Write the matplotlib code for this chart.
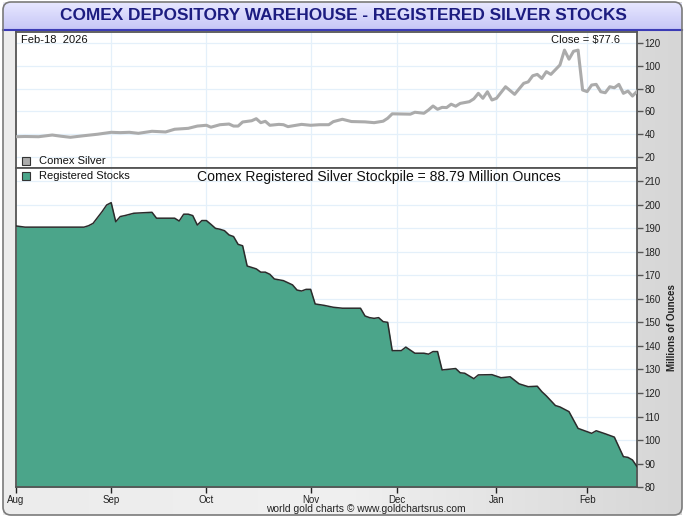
import matplotlib
matplotlib.use('Agg')
import matplotlib.pyplot as plt
import numpy as np
import pandas as pd
from matplotlib.patches import Rectangle, FancyBboxPatch
from matplotlib.colors import LinearSegmentedColormap

plt.rcParams['font.family'] = ['Liberation Sans', 'DejaVu Sans']

# ---------------- data ----------------
title = 'COMEX DEPOSITORY WAREHOUSE - REGISTERED SILVER STOCKS'
date_label = 'Feb-18  2026'
close_label = 'Close = $77.6'
stockpile_label = 'Comex Registered Silver Stockpile = 88.79 Million Ounces'
footer = 'world gold charts \u00a9 www.goldchartsrus.com'
month_labels = ['Aug', 'Sep', 'Oct', 'Nov', 'Dec', 'Jan', 'Feb']
holidays = ['2025-09-01', '2025-11-27', '2025-12-25', '2026-01-01', '2026-01-19', '2026-02-16']
silver_ticks = [20, 40, 60, 80, 100, 120]
stock_ticks = list(range(80, 211, 10))

silver_dates = ['2025-08-01', '2025-08-05', '2025-08-08', '2025-08-13', '2025-08-15', '2025-08-19',
                '2025-08-22', '2025-08-27', '2025-09-02', '2025-09-04', '2025-09-08', '2025-09-10',
                '2025-09-15', '2025-09-18', '2025-09-22', '2025-09-25', '2025-09-29', '2025-10-01',
                '2025-10-02', '2025-10-06', '2025-10-08', '2025-10-09', '2025-10-10', '2025-10-13',
                '2025-10-15', '2025-10-16', '2025-10-17', '2025-10-20', '2025-10-21', '2025-10-23',
                '2025-10-24', '2025-10-27', '2025-10-30', '2025-11-03', '2025-11-05', '2025-11-07',
                '2025-11-10', '2025-11-12', '2025-11-14', '2025-11-19', '2025-11-21', '2025-11-25',
                '2025-11-26', '2025-11-28', '2025-12-04', '2025-12-05', '2025-12-09', '2025-12-10',
                '2025-12-11', '2025-12-12', '2025-12-15', '2025-12-16', '2025-12-17', '2025-12-18',
                '2025-12-19', '2025-12-23', '2025-12-24', '2025-12-26', '2025-12-29', '2025-12-30',
                '2025-12-31', '2026-01-02', '2026-01-06', '2026-01-08', '2026-01-12', '2026-01-13',
                '2026-01-14', '2026-01-15', '2026-01-16', '2026-01-20', '2026-01-21', '2026-01-23',
                '2026-01-26', '2026-01-27', '2026-01-28', '2026-01-29', '2026-01-30', '2026-02-02',
                '2026-02-03', '2026-02-04', '2026-02-05', '2026-02-06', '2026-02-09', '2026-02-10',
                '2026-02-11', '2026-02-12', '2026-02-13', '2026-02-17', '2026-02-18']
silver_prices = [37.6, 37.8, 37.6, 39.1, 38.0, 37.1,
                 38.5, 39.8, 41.5, 41.2, 41.5, 40.6,
                 42.4, 41.8, 44.2, 45.0, 47.0, 47.7,
                 46.0, 48.2, 48.8, 47.0, 47.0, 50.6,
                 51.7, 53.5, 50.0, 51.2, 47.7, 48.5,
                 48.2, 46.5, 48.5, 47.7, 48.2, 48.2,
                 50.9, 53.0, 51.0, 50.7, 50.0, 51.3,
                 53.9, 57.8, 57.5, 59.2, 58.3, 61.2,
                 64.7, 61.8, 63.5, 63.3, 66.3, 64.5,
                 67.0, 68.5, 71.0, 75.9, 71.5, 77.3,
                 70.0, 71.5, 81.7, 75.0, 84.7, 86.0,
                 91.4, 92.6, 89.0, 95.0, 92.6, 100.9,
                 114.0, 106.0, 113.0, 114.0, 78.8, 77.4,
                 83.2, 83.8, 77.3, 76.4, 81.7, 80.8,
                 83.8, 75.9, 77.9, 73.5, 77.6]

stock_dates = ['2025-08-01', '2025-08-05', '2025-08-22', '2025-08-25', '2025-08-26', '2025-08-28',
               '2025-08-29', '2025-09-02', '2025-09-03', '2025-09-04', '2025-09-05', '2025-09-09',
               '2025-09-15', '2025-09-16', '2025-09-22', '2025-09-23', '2025-09-24', '2025-09-25',
               '2025-09-26', '2025-09-29', '2025-09-30', '2025-10-01', '2025-10-02', '2025-10-03',
               '2025-10-06', '2025-10-07', '2025-10-08', '2025-10-09', '2025-10-10', '2025-10-13',
               '2025-10-14', '2025-10-16', '2025-10-17', '2025-10-20', '2025-10-21', '2025-10-22',
               '2025-10-24', '2025-10-27', '2025-10-28', '2025-10-29', '2025-10-30', '2025-10-31',
               '2025-11-03', '2025-11-04', '2025-11-06', '2025-11-10', '2025-11-12', '2025-11-18',
               '2025-11-19', '2025-11-20', '2025-11-21', '2025-11-24', '2025-11-25', '2025-11-26',
               '2025-11-28', '2025-12-02', '2025-12-03', '2025-12-05', '2025-12-09', '2025-12-10',
               '2025-12-11', '2025-12-12', '2025-12-15', '2025-12-18', '2025-12-19', '2025-12-22',
               '2025-12-24', '2025-12-26', '2025-12-31', '2026-01-05', '2026-01-07', '2026-01-09',
               '2026-01-13', '2026-01-15', '2026-01-16', '2026-01-20', '2026-01-22', '2026-01-23',
               '2026-01-27', '2026-01-29', '2026-01-30', '2026-02-03', '2026-02-04', '2026-02-06',
               '2026-02-10', '2026-02-12', '2026-02-13', '2026-02-17', '2026-02-18']
stock_values = [190.9, 190.4, 190.4, 191.0, 192.0, 197.0,
                199.8, 200.8, 192.7, 194.9, 195.3, 196.3,
                196.7, 194.2, 194.2, 193.0, 195.9, 195.9,
                195.3, 191.3, 193.2, 193.2, 191.6, 189.9,
                189.5, 188.9, 187.1, 186.4, 183.1, 182.5,
                173.9, 172.7, 171.3, 171.3, 170.4, 168.4,
                167.7, 166.8, 165.9, 163.7, 163.3, 164.0,
                164.0, 157.8, 157.2, 156.4, 156.0, 156.0,
                152.7, 152.0, 151.7, 152.0, 150.3, 150.0,
                138.0, 138.0, 139.5, 136.9, 136.9, 136.5,
                137.6, 137.6, 129.8, 130.4, 128.6, 128.4,
                126.1, 127.7, 127.8, 126.5, 126.9, 123.9,
                122.7, 122.9, 120.6, 118.8, 114.7, 114.1,
                112.1, 105.0, 104.3, 102.9, 104.0, 102.7,
                101.3, 93.0, 92.7, 91.6, 88.79]

# ---------------- trading-day axis ----------------
trading_days = pd.bdate_range('2025-08-01', '2026-02-18', freq='C', holidays=holidays)
silver_x = trading_days.get_indexer(pd.to_datetime(silver_dates))
stock_x = trading_days.get_indexer(pd.to_datetime(stock_dates))
month_first = pd.Series(np.arange(len(trading_days)), index=trading_days)
month_pos = month_first.groupby(trading_days.to_period('M')).first().values
xmax = len(trading_days) - 1

# ---------------- figure ----------------
W, H = 685, 518
fig = plt.figure(figsize=(W / 100, H / 100), dpi=100, facecolor='white')

bg = fig.add_axes([0, 0, 1, 1], zorder=-5)
bg.set_xlim(0, W)
bg.set_ylim(H, 0)
bg.axis('off')
grad = np.linspace(0, 1, 256)[None, :]
cm_bg = LinearSegmentedColormap.from_list('bgc', ['#ececec', '#f0f0f0', '#d6d6d6'])
bg.imshow(grad, extent=(3, 682, 515, 2), cmap=cm_bg, aspect='auto', zorder=0)
cm_tb = LinearSegmentedColormap.from_list('tbc', ['#e6e6ff', '#c6c6f6'])
bg.imshow(np.linspace(0, 1, 64)[:, None], extent=(3, 682, 30, 3), cmap=cm_tb, aspect='auto', zorder=1)
bg.plot([3, 682], [30, 30], color='#3b3bb5', lw=1.5, zorder=2)
frame = FancyBboxPatch((3, 2), 679, 513, boxstyle='round,pad=0,rounding_size=8',
                       facecolor='none', edgecolor='#7a7a7a', lw=1.2, zorder=3)
bg.add_patch(frame)
bg.text(343, 16, title, ha='center', va='center', fontsize=12.4, fontweight='bold', color='#1c1c80')
bg.text(366, 509, footer, ha='center', va='center', fontsize=7.4, color='#222222')
bg.text(672, 328, 'Millions of Ounces', rotation=90, ha='center', va='center',
        fontsize=7, fontweight='bold', color='#222222')

L, R = 16, 637
top_t, mid, bot = 32, 168, 487.3
ax1 = fig.add_axes([L / W, 1 - mid / H, (R - L) / W, (mid - top_t) / H])
ax2 = fig.add_axes([L / W, 1 - bot / H, (R - L) / W, (bot - mid) / H])

grid_c = '#e4f0fa'
spine_c = '#555555'
for ax in (ax1, ax2):
    ax.set_facecolor('white')
    ax.set_xlim(0, xmax)
    ax.set_axisbelow(True)
    ax.yaxis.tick_right()
    for s in ax.spines.values():
        s.set_color(spine_c)
        s.set_linewidth(1.3)
    ax.tick_params(axis='y', direction='out', length=4, width=1, color=spine_c,
                   labelsize=7, labelcolor='#222222', pad=1.5)
    ax.set_xticks(month_pos)
    for xv in month_pos[1:]:
        ax.axvline(xv, color=grid_c, lw=0.9, zorder=0)

# top panel: silver price
ax1.set_ylim(10, 130)
ax1.set_yticks(silver_ticks)
for yv in silver_ticks:
    ax1.axhline(yv, color=grid_c, lw=0.9, zorder=0)
ax1.tick_params(axis='x', length=0, labelbottom=False)
ax1.plot(silver_x, silver_prices, color='#ababab', lw=2.2, solid_joinstyle='round', zorder=3)
ax1.text(0.008, 0.975, date_label, transform=ax1.transAxes, ha='left', va='top', fontsize=8, color='#111111')
ax1.text(0.973, 0.975, close_label, transform=ax1.transAxes, ha='right', va='top', fontsize=8, color='#111111')
aw1, ah1 = R - L, mid - top_t
ax1.add_patch(Rectangle((6 / aw1, 3.5 / ah1), 8 / aw1, 8 / ah1, transform=ax1.transAxes,
                        facecolor='#ababab', edgecolor='#333333', lw=0.8, zorder=5))
ax1.text(23 / aw1, 7.5 / ah1, 'Comex Silver', transform=ax1.transAxes, ha='left', va='center',
         fontsize=8, color='#111111')

# bottom panel: registered stocks
ax2.set_ylim(80, 215.5)
ax2.set_yticks(stock_ticks)
for yv in stock_ticks:
    ax2.axhline(yv, color=grid_c, lw=0.9, zorder=0)
ax2.fill_between(stock_x, stock_values, 80, color='#4ba58a', lw=0, zorder=2)
ax2.plot(stock_x, stock_values, color='#2b2b2b', lw=1.1, zorder=3)
ax2.set_xticklabels(month_labels)
ax2.tick_params(axis='x', direction='out', length=4, width=1, color='#222222',
                labelsize=7, labelcolor='#222222', pad=1.5)
aw2, ah2 = R - L, bot - mid
ax2.add_patch(Rectangle((6 / aw2, 1 - 12 / ah2), 8 / aw2, 8 / ah2, transform=ax2.transAxes,
                        facecolor='#4ba58a', edgecolor='#333333', lw=0.8, zorder=5))
ax2.text(23 / aw2, 1 - 8 / ah2, 'Registered Stocks', transform=ax2.transAxes, ha='left', va='center',
         fontsize=8, color='#111111')
ax2.text((379 - L) / aw2, 1 - 9 / ah2, stockpile_label, transform=ax2.transAxes, ha='center',
         va='center', fontsize=10.1, color='#111111')

fig.savefig('out.png', dpi=100, facecolor='white')
